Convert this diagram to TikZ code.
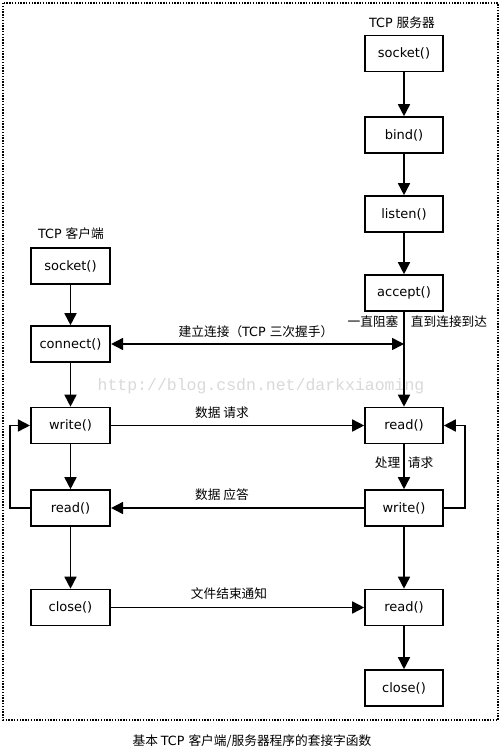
\documentclass[tikz,border=0pt]{standalone}
\usepackage{fontspec}
\setmainfont{DejaVu Sans}
\newfontfamily\cjk{Noto Sans CJK SC}
\newfontfamily\wmfont{Liberation Mono}
\usetikzlibrary{arrows.meta}

\tikzset{
  func/.style={draw, line width=1.6pt, minimum width=78pt, minimum height=36pt,
    inner sep=0pt, font=\fontsize{13}{15}\selectfont},
  flow/.style={line width=1.6pt, -{Triangle[length=12pt,width=12pt]}},
  note/.style={inner sep=1pt, font=\fontsize{12.7}{15}\selectfont},
}

\begin{document}
\begin{tikzpicture}[x=1pt,y=-1pt]
  \useasboundingbox (0,0) rectangle (502,751);
  \node[text=black!15, font=\wmfont\fontsize{16.5}{18}\selectfont] (mark) at (261,386) {http://blog.csdn.net/darkxiaoming};
  \draw[line width=1.4pt, dash pattern=on 1.4pt off 1.4pt] (3,3) rectangle (498,720);

  % server side
  \node[note] (stitle) at (402,23) {TCP {\cjk 服务器}};
  \node[func] (ssocket) at (404,53.5) {socket()};
  \node[func] (sbind) at (404,135) {bind()};
  \node[func] (slisten) at (404,214) {listen()};
  \node[func] (saccept) at (404,293) {accept()};
  \node[func] (sread) at (404,425.5) {read()};
  \node[func] (swrite) at (404,508) {write()};
  \node[func] (sreadend) at (404,607.5) {read()};
  \node[func] (sclose) at (404,688) {close()};

  % client side
  \node[note] (ctitle) at (71,234) {TCP {\cjk 客户端}};
  \node[func, minimum width=79.5pt] (csocket) at (70.5,266) {socket()};
  \node[func, minimum width=79.5pt] (cconnect) at (70.5,344) {connect()};
  \node[func, minimum width=79.5pt] (cwrite) at (70.5,425.5) {write()};
  \node[func, minimum width=79.5pt] (cread) at (70.5,508) {read()};
  \node[func, minimum width=79.5pt] (cclose) at (70.5,607.5) {close()};

  \draw[flow] (ssocket) -- (sbind);
  \draw[flow] (sbind) -- (slisten);
  \draw[flow] (slisten) -- (saccept);
  \draw[flow] (saccept) -- (sread);
  \draw[flow] (sread) -- (swrite);
  \draw[flow] (swrite) -- (sreadend);
  \draw[flow] (sreadend) -- (sclose);
  \draw[flow] (swrite.east) -- ++(21,0) |- (sread.east);

  \draw[flow] (csocket) -- (cconnect);
  \draw[flow] (cconnect) -- (cwrite);
  \draw[flow] (cwrite) -- (cread);
  \draw[flow] (cread) -- (cclose);
  \draw[flow] (cread.west) -- ++(-20,0) |- (cwrite.west);

  % between the two
  \coordinate (meet) at (saccept.south |- cconnect.east);
  \draw[flow, {Triangle[length=12pt,width=12pt]}-{Triangle[length=12pt,width=12pt]}] (cconnect) -- (meet);
  \draw[flow] (cwrite) -- (sread);
  \draw[flow] (swrite) -- (cread);
  \draw[flow] (cclose) -- (sreadend);

  \node[note] (shake) at (256,332) {{\cjk 建立连接（}TCP {\cjk 三次握手）}};
  \node[note] (wait) at (373,322) {\cjk 一直阻塞};
  \node[note] (until) at (449,322) {\cjk 直到连接到达};
  \node[note] (ask) at (222,413) {\cjk 数据 请求};
  \node[note] (dowork) at (387.5,463) {\cjk 处理};
  \node[note] (dowork2) at (420.5,463) {\cjk 请求};
  \node[note] (answer) at (222,495) {\cjk 数据 应答};
  \node[note] (eof) at (229,594) {\cjk 文件结束通知};

  \node[note] (caption) at (252,741) {{\cjk 基本 }TCP {\cjk 客户端/服务器程序的套接字函数}};
\end{tikzpicture}
\end{document}
